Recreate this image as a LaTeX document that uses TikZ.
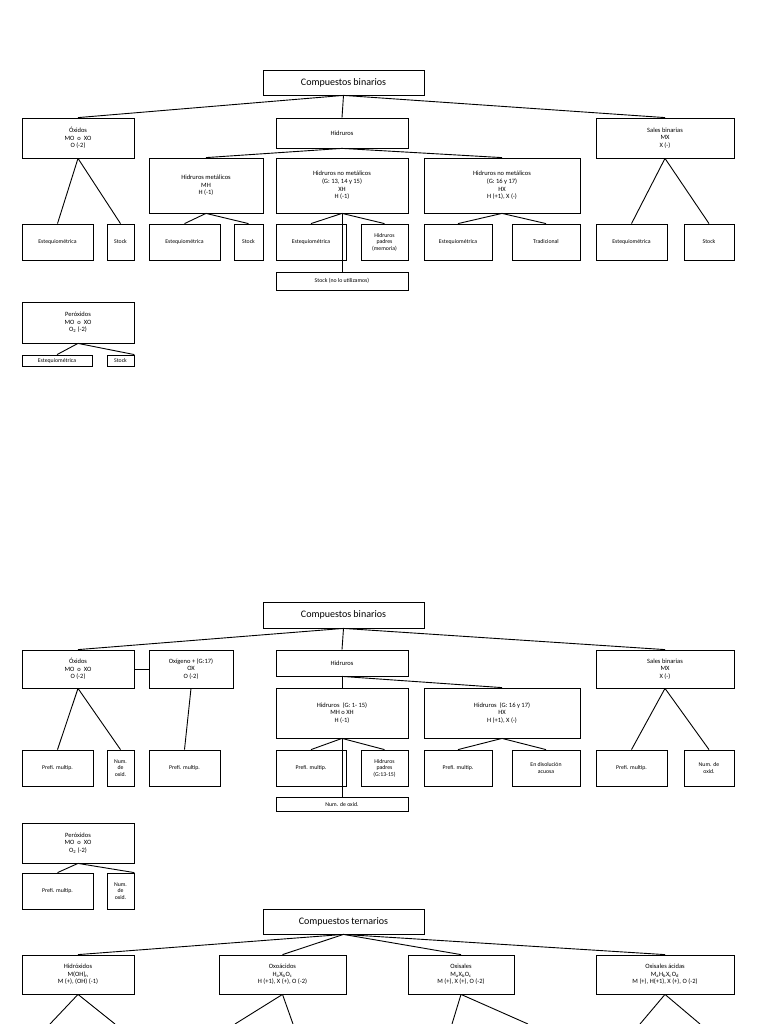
\documentclass[tikz,border=0pt]{standalone}
\usepackage{fontspec}
\setmainfont{Carlito}
\usetikzlibrary{positioning}
\tikzset{
caja/.style={draw,line width=0.8pt,inner sep=1pt,align=center,font={\fontsize{6.5}{7.6}\selectfont}},
chica/.style={font={\fontsize{5.8}{6.6}\selectfont}},
grande/.style={font={\fontsize{10}{12}\selectfont}},
rama/.style={line width=0.9pt},
}
% caja: name, x1, y1, x2, y2, style, text
\newcommand{\caja}[7]{
	\pgfmathsetmacro{\cw}{#4-#2}
	\pgfmathsetmacro{\ch}{#5-#3}
	\node[caja,#6,minimum width=\cw pt,minimum height=\ch pt] (#1) at ({(#2+#4)/2},{(#3+#5)/2}) {#7};
}
\begin{document}
\begin{tikzpicture}[x=1pt,y=-1pt]
	\useasboundingbox (0,0) rectangle (768,1024);
	
	% binarios (arriba)
	\caja{cb}{263}{70}{424}{95}{grande}{Compuestos binarios}
	\caja{ox}{22}{118}{134}{158}{}{Óxidos\\MO\ \ o\ \ XO\\O (-2)}
	\caja{hid}{276}{118}{408}{148}{}{Hidruros}
	\caja{sal}{596}{118}{734}{158}{}{Sales binarias\\MX\\X (-)}
	\caja{hm}{149}{158}{263}{213}{}{Hidruros metálicos\\MH\\H (-1)}
	\caja{hnm}{276}{158}{408}{213}{}{Hidruros no metálicos\\(G: 13, 14 y 15)\\XH\\H (-1)}
	\caja{hnmb}{424}{158}{580}{213}{}{Hidruros no metálicos\\(G: 16 y 17)\\HX\\H (+1), X (-)}
	\caja{oxe}{22}{224}{93}{260}{chica}{Estequiométrica}
	\caja{oxs}{107}{224}{134}{260}{chica}{Stock}
	\caja{hme}{149}{224}{220}{260}{chica}{Estequiométrica}
	\caja{hms}{234}{224}{263}{260}{chica}{Stock}
	\caja{hnme}{276}{224}{346}{260}{chica}{Estequiométrica}
	\caja{hnmp}{361}{224}{408}{260}{chica}{Hidruros\\padres\\(memoria)}
	\caja{hnmbe}{424}{224}{492}{260}{chica}{Estequiométrica}
	\caja{hnmbt}{512}{224}{580}{260}{chica}{Tradicional}
	\caja{sale}{596}{224}{667}{260}{chica}{Estequiométrica}
	\caja{sals}{684}{224}{734}{260}{chica}{Stock}
	\caja{hnms}{276}{272}{408}{290}{chica}{Stock (no lo utilizamos)}
	\caja{per}{22}{302}{134}{343}{}{Peróxidos\\MO\ \ o\ \ XO\\O\textsubscript{2} (-2)}
	\caja{pere}{22}{355}{92}{366}{chica}{Estequiométrica}
	\caja{pers}{107}{355}{134}{366}{chica}{Stock}
	
	\draw[rama] (cb.south) -- (ox.north);
	\draw[rama] (cb.south) -- (hid.north);
	\draw[rama] (cb.south) -- (sal.north);
	\draw[rama] (hid.south) -- (hm.north);
	\draw[rama] (hid.south) -- (hnmb.north);
	\draw[rama] (ox.south) -- (oxe.north);
	\draw[rama] (ox.south) -- (oxs.north);
	\draw[rama] (hm.south) -- (hme.north);
	\draw[rama] (hm.south) -- (hms.north);
	\draw[rama] (hnm.south) -- (hnme.north);
	\draw[rama] (hnm.south) -- (hnmp.north);
	\draw[rama] (hnm.south) -- (hnms.north);
	\draw[rama] (hnmb.south) -- (hnmbe.north);
	\draw[rama] (hnmb.south) -- (hnmbt.north);
	\draw[rama] (sal.south) -- (sale.north);
	\draw[rama] (sal.south) -- (sals.north);
	\draw[rama] (per.south) -- (pere.north);
	\draw[rama] (per.south) -- (pers.north east);
	
	% binarios (abajo)
	\caja{cbb}{263}{602}{424}{628}{grande}{Compuestos binarios}
	\caja{oxb}{22}{650}{134}{688}{}{Óxidos\\MO\ \ o\ \ XO\\O (-2)}
	\caja{oxg}{149}{650}{233}{688}{}{Oxígeno + (G:17)\\OX\\O (-2)}
	\caja{hidb}{276}{650}{408}{676}{}{Hidruros}
	\caja{salb}{596}{650}{734}{688}{}{Sales binarias\\MX\\X (-)}
	\caja{hga}{276}{688}{408}{738}{}{Hidruros\ \ (G: 1- 15)\\MH o XH\\H (-1)}
	\caja{hgb}{424}{688}{580}{738}{}{Hidruros\ \ (G: 16 y 17)\\HX\\H (+1), X (-)}
	\caja{oxbp}{22}{750}{93}{786}{chica}{Prefi. multip.}
	\caja{oxbn}{107}{750}{134}{786}{chica}{Num.\\de\\oxid.}
	\caja{oxgp}{149}{750}{220}{786}{chica}{Prefi. multip.}
	\caja{hgap}{276}{750}{346}{786}{chica}{Prefi. multip.}
	\caja{hgah}{361}{750}{408}{786}{chica}{Hidruros\\padres\\(G:13-15)}
	\caja{hgbp}{424}{750}{492}{786}{chica}{Prefi. multip.}
	\caja{hgbd}{512}{750}{580}{786}{chica}{En disolución\\acuosa}
	\caja{salbp}{596}{750}{667}{786}{chica}{Prefi. multip.}
	\caja{salbn}{684}{750}{734}{786}{chica}{Num. de\\oxid.}
	\caja{hgan}{276}{797}{408}{811}{chica}{Num. de oxid.}
	\caja{perb}{22}{823}{134}{863}{}{Peróxidos\\MO\ \ o\ \ XO\\O\textsubscript{2} (-2)}
	\caja{perbp}{22}{873}{93}{909}{chica}{Prefi. multip.}
	\caja{perbn}{107}{873}{134}{909}{chica}{Num.\\de\\oxid.}
	
	\draw[rama] (cbb.south) -- (oxb.north);
	\draw[rama] (cbb.south) -- (hidb.north);
	\draw[rama] (cbb.south) -- (salb.north);
	\draw[rama] (oxb.east) -- (oxg.west);
	\draw[rama] (hidb.south) -- (hga.north);
	\draw[rama] (hidb.south) -- (hgb.north);
	\draw[rama] (oxb.south) -- (oxbp.north);
	\draw[rama] (oxb.south) -- (oxbn.north);
	\draw[rama] (oxg.south) -- (oxgp.north);
	\draw[rama] (hga.south) -- (hgap.north);
	\draw[rama] (hga.south) -- (hgah.north);
	\draw[rama] (hga.south) -- (hgan.north);
	\draw[rama] (hgb.south) -- (hgbp.north);
	\draw[rama] (hgb.south) -- (hgbd.north);
	\draw[rama] (salb.south) -- (salbp.north);
	\draw[rama] (salb.south) -- (salbn.north);
	\draw[rama] (perb.south) -- (perbp.north);
	\draw[rama] (perb.south) -- (perbn.north east);
	
	% ternarios
	\caja{ct}{263}{909}{424}{934}{grande}{Compuestos ternarios}
	\caja{hox}{22}{955}{134}{994}{}{Hidróxidos\\M(OH)\textsubscript{n}\\M (+), (OH) (-1)}
	\caja{oxa}{219}{955}{346}{994}{}{Oxoácidos\\H\textsubscript{a}X\textsubscript{b}O\textsubscript{c}\\H (+1), X (+), O (-2)}
	\caja{oxs}{408}{955}{514}{994}{}{Oxisales\\M\textsubscript{a}X\textsubscript{b}O\textsubscript{c}\\M (+), X (+), O (-2)}
	\caja{oxsa}{596}{955}{734}{994}{}{Oxisales ácidas\\M\textsubscript{a}H\textsubscript{b}X\textsubscript{c}O\textsubscript{d}\\M (+), H(+1), X (+), O (-2)}
	\coordinate (hoxa) at (50,1024);
	\coordinate (hoxb) at (115,1024);
	\coordinate (oxaa) at (235,1024);
	\coordinate (oxab) at (293,1024);
	\coordinate (oxsx) at (452,1024);
	\coordinate (oxsy) at (528,1024);
	\coordinate (oxsaa) at (640,1024);
	\coordinate (oxsab) at (700,1024);
	
	\draw[rama] (ct.south) -- (hox.north);
	\draw[rama] (ct.south) -- (oxa.north);
	\draw[rama] (ct.south) -- (oxs.north);
	\draw[rama] (ct.south) -- (oxsa.north);
	\draw[rama] (hox.south) -- (hoxa);
	\draw[rama] (hox.south) -- (hoxb);
	\draw[rama] (oxa.south) -- (oxaa);
	\draw[rama] (oxa.south) -- (oxab);
	\draw[rama] (oxs.south) -- (oxsx);
	\draw[rama] (oxs.south) -- (oxsy);
	\draw[rama] (oxsa.south) -- (oxsaa);
	\draw[rama] (oxsa.south) -- (oxsab);
\end{tikzpicture}
\end{document}
